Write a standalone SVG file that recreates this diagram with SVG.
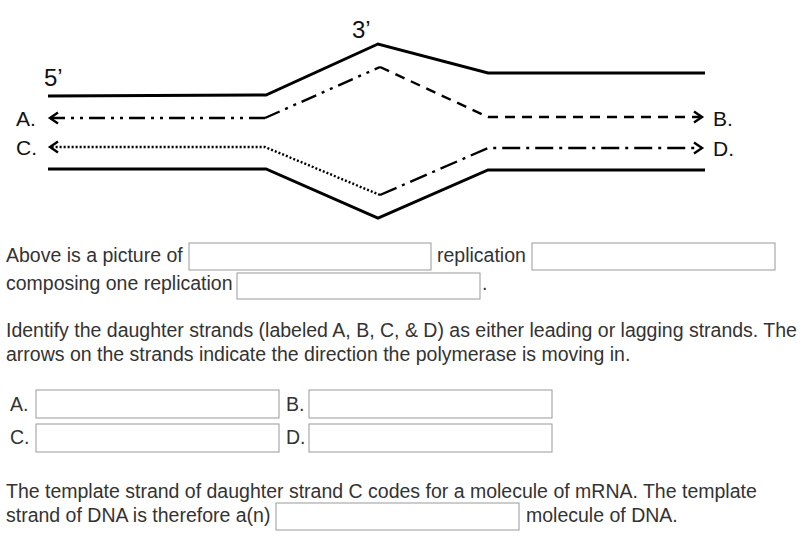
<svg xmlns="http://www.w3.org/2000/svg" width="811" height="536" viewBox="0 0 811 536">
<style>
text{font-family:"Liberation Sans",Arial,sans-serif;font-size:19.5px;fill:#333}
.lbl{font-size:21px;fill:#111}
.s{fill:none;stroke:#000;stroke-width:3}
.d{fill:none;stroke:#000;stroke-width:2.4}
.box{fill:#fff;stroke:#999;stroke-width:1}
</style>
<defs>
<marker id="ah" markerWidth="14" markerHeight="14" refX="11" refY="7" orient="auto" markerUnits="userSpaceOnUse"><path d="M3,1.5 L11,7 L3,12.5" fill="none" stroke="#000" stroke-width="2.4"/></marker>
</defs>
<rect width="811" height="536" fill="#fff"/>
<g id="connectors">
<polyline id="template-top" class="s" points="48,96 266,95 378,44 488,73 705,73"/>
<polyline id="template-bottom" class="s" points="48,169 266,169 378,218 488,170 705,170"/>
<polyline id="strandA" class="d" points="265,118 380,67" stroke-dasharray="16,6,3,6,3,6"/>
<line class="d" x1="265" y1="118" x2="50" y2="118" stroke-dasharray="16,6,3,6,3,6" marker-end="url(#ah)"/>
<polyline id="strandB" class="d" points="380,67 488,117 702,117" stroke-dasharray="10,7" marker-end="url(#ah)"/>
<polyline id="strandC" class="d" points="380,195 265,147 50,147" stroke-dasharray="2,2" marker-end="url(#ah)"/>
<polyline id="strandD" class="d" points="380,195 488,148 702,148" stroke-dasharray="18,6,3,6" marker-end="url(#ah)"/>
</g>
<g id="labels">
<text class="lbl" x="44" y="86" style="font-size:24px">5’</text>
<text class="lbl" x="352" y="38" style="font-size:24px">3’</text>
<text class="lbl" x="16" y="126">A.</text>
<text class="lbl" x="16" y="155">C.</text>
<text class="lbl" x="713" y="126">B.</text>
<text class="lbl" x="713" y="156">D.</text>
</g>
<g id="question">
<text x="6" y="262">Above is a picture of</text>
<rect class="box" x="189" y="243" width="242" height="27"/>
<text x="437" y="262">replication</text>
<rect class="box" x="532" y="243" width="243" height="27"/>
<text x="6" y="290">composing one replication</text>
<rect class="box" x="237" y="273" width="243" height="26"/>
<text x="482" y="290">.</text>
<text x="6" y="337">Identify the daughter strands (labeled A, B, C, &amp; D) as either leading or lagging strands. The</text>
<text x="6" y="361">arrows on the strands indicate the direction the polymerase is moving in.</text>
<text x="10" y="411">A.</text>
<rect class="box" x="36" y="390" width="243" height="28"/>
<text x="286" y="411">B.</text>
<rect class="box" x="309" y="390" width="243" height="28"/>
<text x="10" y="444">C.</text>
<rect class="box" x="36" y="424" width="243" height="28"/>
<text x="286" y="444">D.</text>
<rect class="box" x="309" y="424" width="243" height="28"/>
<text x="6" y="498">The template strand of daughter strand C codes for a molecule of mRNA. The template</text>
<text x="6" y="522">strand of DNA is therefore a(n)</text>
<rect class="box" x="276" y="503" width="243" height="27"/>
<text x="526" y="522">molecule of DNA.</text>
</g>
</svg>
